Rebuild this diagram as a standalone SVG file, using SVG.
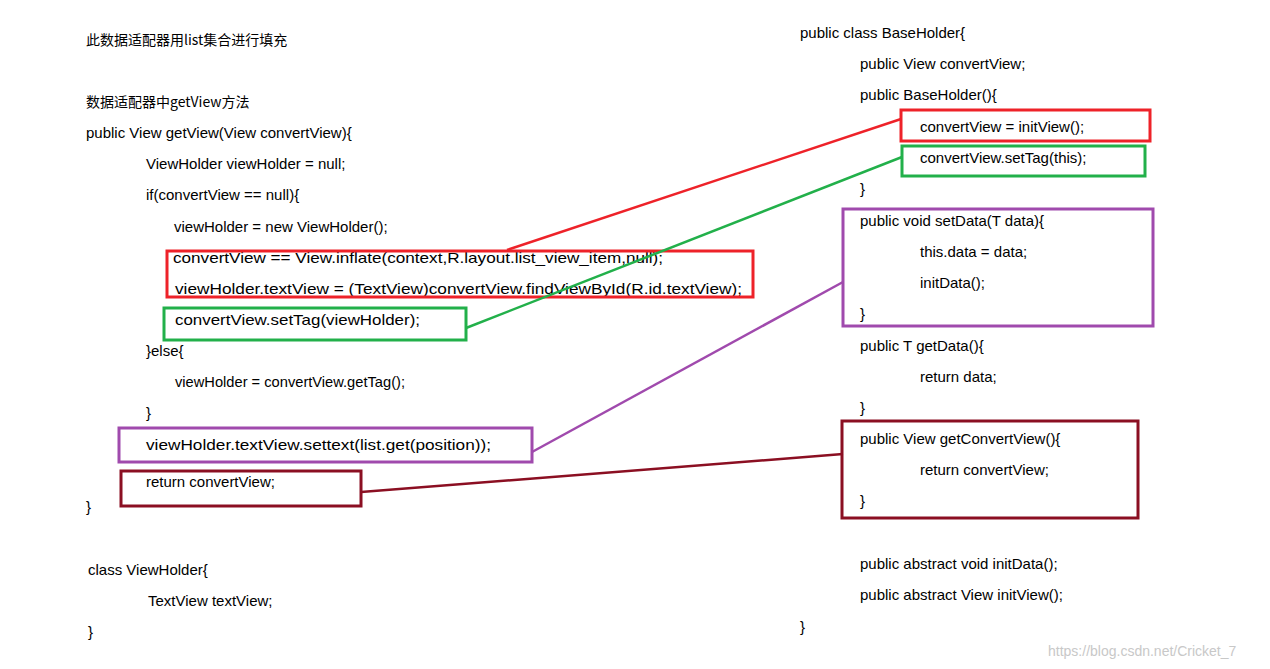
<svg xmlns="http://www.w3.org/2000/svg" width="1270" height="669" viewBox="0 0 1270 669">
<style>
text{font-family:"Liberation Sans","Noto Sans CJK SC",sans-serif;font-size:15px;fill:#000}
.cn{font-family:"Noto Sans CJK SC","Liberation Sans",sans-serif;font-size:14px}
.box{fill:none;stroke-width:3}
.ln{stroke-width:2.5;fill:none}
.r{stroke:#ee2229}.g{stroke:#22b04a}.p{stroke:#a04aad}.d{stroke:#8b0f22}
.wm{fill:#c8c8c8;font-size:14px}
</style>
<rect width="1270" height="669" fill="#fff"/>
<g id="left-code">
<text class="cn" x="86" y="45">此数据适配器用list集合进行填充</text>
<text class="cn" x="86" y="107">数据适配器中getView方法</text>
<text x="86" y="138">public View  getView(View convertView){</text>
<text x="146" y="169">ViewHolder  viewHolder = null;</text>
<text x="146" y="200">if(convertView == null){</text>
<text x="174" y="232">viewHolder = new ViewHolder();</text>
<text x="173" y="263" textLength="490" lengthAdjust="spacingAndGlyphs">convertView == View.inflate(context,R.layout.list_view_item,null);</text>
<text x="175" y="294" textLength="567" lengthAdjust="spacingAndGlyphs">viewHolder.textView = (TextView)convertView.findViewById(R.id.textView);</text>
<text x="175" y="325" textLength="245" lengthAdjust="spacingAndGlyphs">convertView.setTag(viewHolder);</text>
<text x="146" y="356">}else{</text>
<text x="175" y="387" textLength="230" lengthAdjust="spacingAndGlyphs">viewHolder = convertView.getTag();</text>
<text x="146" y="418">}</text>
<text x="146" y="450" textLength="345" lengthAdjust="spacingAndGlyphs">viewHolder.textView.settext(list.get(position));</text>
<text x="146" y="487">return  convertView;</text>
<text x="86" y="512">}</text>
<text x="88" y="575">class ViewHolder{</text>
<text x="148" y="606">TextView textView;</text>
<text x="88" y="637">}</text>
</g>
<g id="right-code">
<text x="800" y="38">public class BaseHolder{</text>
<text x="860" y="69">public View convertView;</text>
<text x="860" y="100">public BaseHolder(){</text>
<text x="920" y="132">convertView = initView();</text>
<text x="920" y="163">convertView.setTag(this);</text>
<text x="860" y="194">}</text>
<text x="860" y="226">public void setData(T data){</text>
<text x="920" y="257">this.data = data;</text>
<text x="920" y="288">initData();</text>
<text x="860" y="319">}</text>
<text x="860" y="351">public T getData(){</text>
<text x="920" y="382">return  data;</text>
<text x="860" y="413">}</text>
<text x="860" y="444">public View getConvertView(){</text>
<text x="920" y="475">return convertView;</text>
<text x="860" y="506">}</text>
<text x="860" y="569">public abstract void initData();</text>
<text x="860" y="600">public abstract View initView();</text>
<text x="800" y="632">}</text>
</g>
<g id="boxes">
<rect class="box r" x="167" y="251" width="586" height="46"/>
<rect class="box g" x="164" y="308" width="302" height="32"/>
<rect class="box p" x="119" y="428" width="413" height="34"/>
<rect class="box d" x="121" y="471" width="240" height="35"/>
<rect class="box r" x="901" y="110" width="249" height="31"/>
<rect class="box g" x="902" y="146" width="243" height="30"/>
<rect class="box p" x="843" y="209" width="310" height="117"/>
<rect class="box d" x="842" y="421" width="296" height="97"/>
</g>
<g id="connectors">
<line class="ln r" x1="507" y1="250" x2="901" y2="119"/>
<line class="ln g" x1="466" y1="328" x2="902" y2="157"/>
<line class="ln p" x1="532" y1="452" x2="843" y2="282"/>
<line class="ln d" x1="361" y1="492" x2="843" y2="454"/>
</g>
<text class="wm" x="1048" y="656">https://blog.csdn.net/Cricket_7</text>
</svg>
